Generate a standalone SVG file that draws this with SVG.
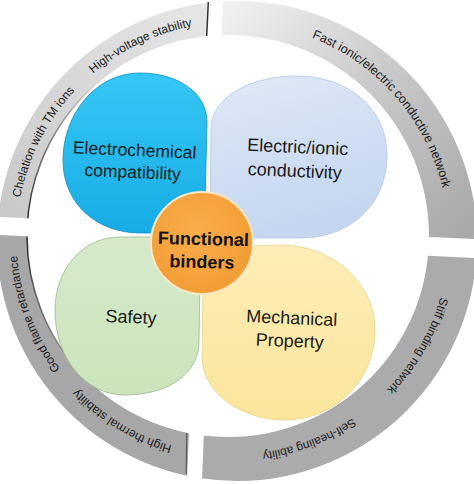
<svg xmlns="http://www.w3.org/2000/svg" width="474" height="484" viewBox="0 0 474 484">
<defs>
<style>
.arc { font-family: "Liberation Sans", Arial, sans-serif; font-size: 12px; fill: #1a1a1a; }
.pt { font-family: "Liberation Sans", Arial, sans-serif; font-size: 18px; fill: #1a1a1a; text-anchor: middle; }
.ct { font-family: "Liberation Sans", Arial, sans-serif; font-size: 18px; font-weight: bold; fill: #111111; text-anchor: middle; }
.edge { fill: none; stroke-width: 1.5; }
</style>
<path id="ann" fill-rule="evenodd" d="M -3,241 A 240,240 0 1,0 477,241 A 240,240 0 1,0 -3,241 Z M 27,236 A 201,201 0 1,0 429,236 A 201,201 0 1,0 27,236 Z"/>
<path id="tp" d="M 16.5,238.5 A 216,216 0 1,1 448.5,238.5 A 216,216 0 1,1 16.5,238.5"/>
<clipPath id="cTL"><path d="M -10,-10 L 208.4,-10 L 198,226 L -10,216.5 Z"/></clipPath>
<clipPath id="cTR"><path d="M 223.4,-10 L 500,-10 L 500,240.3 L 213,227 Z"/></clipPath>
<clipPath id="cBL"><path d="M -10,234.5 L 197,245 L 186.1,500 L -10,500 Z"/></clipPath>
<clipPath id="cBR"><path d="M 212,245 L 500,259.4 L 500,500 L 201.1,500 Z"/></clipPath>
<linearGradient id="gTL" gradientUnits="userSpaceOnUse" x1="200" y1="0" x2="10" y2="220">
<stop offset="0" stop-color="#e6e6e6"/><stop offset="1" stop-color="#c9c9c9"/></linearGradient>
<linearGradient id="gTR" gradientUnits="userSpaceOnUse" x1="240" y1="0" x2="465" y2="225">
<stop offset="0" stop-color="#f0f0f0"/><stop offset="0.45" stop-color="#cbcbcb"/><stop offset="1" stop-color="#aaaaaa"/></linearGradient>
<linearGradient id="gEdgeTL" gradientUnits="userSpaceOnUse" x1="30" y1="220" x2="120" y2="80">
<stop offset="0" stop-color="#2a2a2a"/><stop offset="1" stop-color="#2a2a2a" stop-opacity="0"/></linearGradient>
<linearGradient id="gEdgeBL" gradientUnits="userSpaceOnUse" x1="30" y1="240" x2="110" y2="400">
<stop offset="0" stop-color="#2a2a2a"/><stop offset="1" stop-color="#2a2a2a" stop-opacity="0"/></linearGradient>
<linearGradient id="gBlue" x1="0" y1="0" x2="0" y2="1">
<stop offset="0" stop-color="#35c7f4"/><stop offset="1" stop-color="#17acE6"/></linearGradient>
<linearGradient id="gLB" x1="0" y1="0" x2="0.3" y2="1">
<stop offset="0" stop-color="#e0e9f6"/><stop offset="1" stop-color="#c4d6f0"/></linearGradient>
<linearGradient id="gGreen" x1="0" y1="0" x2="0" y2="1">
<stop offset="0" stop-color="#d6eacb"/><stop offset="1" stop-color="#cbe4bb"/></linearGradient>
<linearGradient id="gYellow" x1="0" y1="0" x2="0" y2="1">
<stop offset="0" stop-color="#fdeeb8"/><stop offset="1" stop-color="#fbe59b"/></linearGradient>
<radialGradient id="gOrange" cx="0.45" cy="0.4" r="0.6">
<stop offset="0" stop-color="#f8ad4c"/><stop offset="1" stop-color="#f29d36"/></radialGradient>
</defs>

<g id="ring">
<use href="#ann" clip-path="url(#cTL)" fill="url(#gTL)"/>
<use href="#ann" clip-path="url(#cTR)" fill="url(#gTR)"/>
<use href="#ann" clip-path="url(#cBL)" fill="#a7a7a7"/>
<use href="#ann" clip-path="url(#cBR)" fill="#ababab"/>
<circle cx="228" cy="236" r="201" class="edge" stroke="url(#gEdgeTL)" clip-path="url(#cTL)"/>
<circle cx="228" cy="236" r="201" class="edge" stroke="url(#gEdgeBL)" clip-path="url(#cBL)"/>
<line x1="208.3" y1="2" x2="206.7" y2="36" stroke="#333333" stroke-width="1.5"/>
<line x1="186.8" y1="433" x2="186.2" y2="474" stroke="#555555" stroke-width="1.2"/>
</g>

<g id="ring-labels" class="arc">
<text text-anchor="middle"><textPath href="#tp" startOffset="101.8">Chelation with TM ions</textPath></text>
<text text-anchor="middle"><textPath href="#tp" startOffset="243.2">High-voltage stability</textPath></text>
<text text-anchor="middle" style="font-size:12.5px"><textPath href="#tp" startOffset="524">Fast ionic/electric conductive network</textPath></text>
<text text-anchor="middle"><textPath href="#tp" startOffset="791.7">Stiff binding network</textPath></text>
<text text-anchor="middle"><textPath href="#tp" startOffset="938.7">Self-healing ability</textPath></text>
<text text-anchor="middle"><textPath href="#tp" startOffset="1134.7">High thermal stability</textPath></text>
<text text-anchor="middle"><textPath href="#tp" startOffset="1278">Good flame retardance</textPath></text>
</g>

<g id="connectors"/>

<g id="node-electrochemical">
<path d="M 205,205 L 207,122 C 207,93 178,73 140,73 C 95,73 63,115 63,160 C 63,205 98,233 140,233 L 195,233 Z" fill="url(#gBlue)" stroke="#1190c4" stroke-width="0.8"/>
<g transform="rotate(2.5 134 165)">
<text class="pt" x="134" y="156" style="font-size:17.5px">Electrochemical</text>
<text class="pt" x="133" y="178" style="font-size:17.5px">compatibility</text>
</g>
</g>

<g id="node-conductivity">
<path d="M 210,215 L 211,128 C 212,96 252,76 296,76 C 350,76 387,110 387,155 C 387,205 350,238 300,238 L 240,238 Z" fill="url(#gLB)" stroke="#b3c6e2" stroke-width="0.8"/>
<g transform="rotate(2.5 296 165)">
<text class="pt" x="297" y="153">Electric/ionic</text>
<text class="pt" x="295" y="177">conductivity</text>
</g>
</g>

<g id="node-safety">
<path d="M 160,237 L 120,237 C 82,237 55,270 55,310 C 55,358 85,395 125,395 C 170,395 199,372 199,342 L 200,275 Z" fill="url(#gGreen)" stroke="#9bb98a" stroke-width="0.8"/>
<text class="pt" x="131" y="323" transform="rotate(2.5 131 317)">Safety</text>
</g>

<g id="node-mechanical">
<path d="M 215,247 L 280,245 C 335,245 375,285 375,330 C 375,380 335,420 285,420 C 240,420 202,392 202,357 L 203,290 Z" fill="url(#gYellow)" stroke="#e7d38a" stroke-width="0.8"/>
<g transform="rotate(2.5 291 335)">
<text class="pt" x="291" y="324">Mechanical</text>
<text class="pt" x="290" y="347">Property</text>
</g>
</g>

<g id="node-center">
<circle cx="202" cy="243" r="51" fill="url(#gOrange)" stroke="#fde6c4" stroke-width="2"/>
<g transform="rotate(1.5 202 256)">
<text class="ct" x="203" y="245">Functional</text>
<text class="ct" x="202" y="268">binders</text>
</g>
</g>
</svg>
